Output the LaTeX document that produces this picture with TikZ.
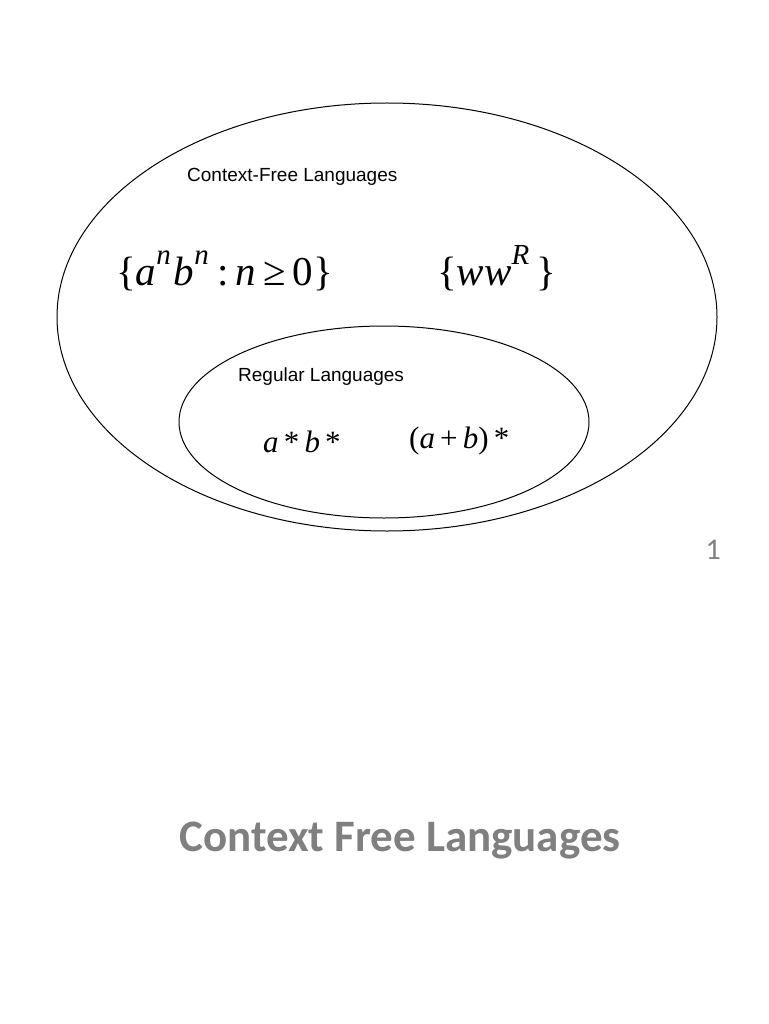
\documentclass[tikz,border=0pt]{standalone}
\usepackage{fontspec}
\setmainfont{Liberation Serif}
\newfontfamily\arialf{Liberation Sans}
\newfontfamily\calib{Carlito}
\newcommand\msup[1]{\raisebox{0.5em}{\fontsize{29}{29}\selectfont\itshape #1}}
\begin{document}
\begin{tikzpicture}[x=1pt,y=-1pt,
  lab/.style={font=\arialf\fontsize{19}{19}\selectfont, anchor=base west, inner sep=0pt},
  bigm/.style={font=\fontsize{41}{41}\selectfont, anchor=base west, inner sep=0pt},
  midm/.style={font=\fontsize{31}{31}\selectfont, anchor=base west, inner sep=0pt},
  ell/.style={draw=black, line width=1pt}]
\path[fill=white] (0,0) rectangle (768,1024);
\draw[ell] (387,317) ellipse [x radius=330pt, y radius=214pt];
\draw[ell] (384,422) ellipse [x radius=205pt, y radius=96pt];
\node[lab] (cfl) at (187,182) {Context-Free Languages};
\node[lab] (reg) at (238,381) {Regular Languages};
\node[bigm] (anbn) at (116,285) {\{\textit{a}\msup{n}\kern3pt\textit{b}\msup{n}\kern2pt\,:\,\textit{n}\,≥\,0\}};
\node[bigm] (wwr) at (437,285) {\{\textit{ww}\msup{R}\kern7pt\}};
\node[midm] (ab) at (263,452) {\textit{a}\,*\,\textit{b}\,*};
\node[midm] (apb) at (409,448) {(\textit{a}\,+\,\textit{b})\,*};
\node[font=\calib\fontsize{30}{30}\selectfont, text=black!50, anchor=base east, inner sep=0pt] (num) at (721,559) {1};
\node[font=\calib\bfseries\fontsize{45}{45}\selectfont, text=black!50, anchor=base, inner sep=0pt] (title) at (400,851) {Context Free Languages};
\end{tikzpicture}
\end{document}
